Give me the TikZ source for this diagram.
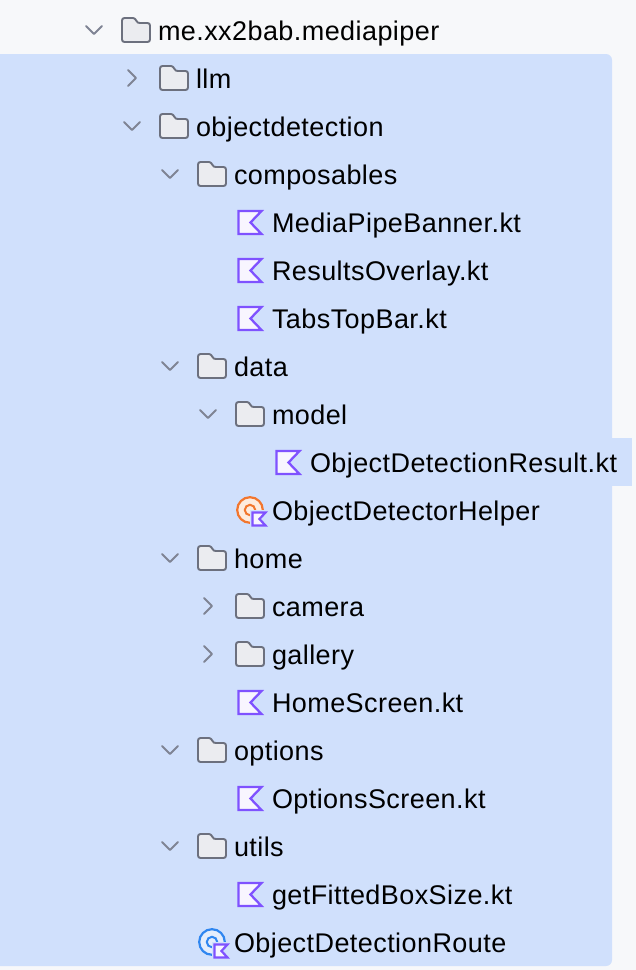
\documentclass[tikz,border=0pt]{standalone}
\usepackage{fontspec}
\setmainfont{Liberation Sans}[LetterSpace=1.6]
\definecolor{panelbg}{HTML}{F7F8FA}
\definecolor{selbg}{HTML}{D0E0FC}
\definecolor{foldfill}{HTML}{EBECF0}
\definecolor{foldline}{HTML}{6C707E}
\definecolor{chev}{HTML}{7F8494}
\definecolor{ktline}{HTML}{7F52FF}
\definecolor{ktfill}{HTML}{F8F5FF}
\definecolor{orangeline}{HTML}{F2762E}
\definecolor{orangefill}{HTML}{FDEBDF}
\definecolor{blueline}{HTML}{2F86F0}
\definecolor{bluefill}{HTML}{E4EDFC}
\tikzset{
  x=1pt,y=-1pt,
  rowtext/.style={anchor=base west,inner sep=0pt,outer sep=0pt,text=black,font=\fontsize{27}{30}\selectfont},
  chevline/.style={draw=chev,line width=1.9pt,line cap=round,line join=round},
  foldshape/.style={draw=foldline,fill=foldfill,line width=1.9pt,line join=round},
  ktshape/.style={draw=ktline,fill=ktfill,line width=2.3pt,line join=miter},
  pics/folder/.style={code={
    \path[foldshape] (2.5,0) -- (11,0) .. controls (13,0) and (13,1) .. (14.5,3) .. controls (15.5,4.5) and (16,5) .. (18,5) -- (25.5,5)
      .. controls (27,5) and (28,6) .. (28,7.5) -- (28,21.5) .. controls (28,23) and (27,24) .. (25.5,24) -- (2.5,24)
      .. controls (1,24) and (0,23) .. (0,21.5) -- (0,2.5) .. controls (0,1) and (1,0) .. (2.5,0) -- cycle;
  }},
  pics/ktfile/.style={code={
    \path[ktshape] (0,0) -- (23,0) -- (12,11.5) -- (23,23) -- (0,23) -- cycle;
  }},
  pics/ktbadge/.style={code={
    \path[fill=selbg] (-2.5,-2.5) rectangle (15.5,15.5);
    \path[draw=ktline,fill=ktfill,line width=2.2pt] (0,0) -- (13,0) -- (7,6.5) -- (13,13) -- (0,13) -- cycle;
  }},
  pics/chevdown/.style={code={\path[chevline] (-8,-4) -- (0,4) -- (8,-4);}},
  pics/chevright/.style={code={\path[chevline] (-4,-8) -- (4,0) -- (-4,8);}},
}
\newcommand{\rowfolder}[3]{% folder x, row y, expanded(d/r)
  \pic at (#1,#2-12) {folder};
  \pic at (#1-28,#2) {chev#3};
}
\begin{document}
\begin{tikzpicture}
\useasboundingbox (0,0) rectangle (636,970);
\fill[panelbg] (0,0) rectangle (636,970);
\fill[selbg] (-10,54) [rounded corners=6pt] -- (612,54) -- (612,966) -- (-10,966) -- cycle;
\fill[selbg] (600,438) rectangle (632,486);

\rowfolder{122}{30}{down}  \node[rowtext] (root) at (158,40) {me.xx2bab.mediapiper};
\rowfolder{160}{78}{right} \node[rowtext] (llm) at (196,88) {llm};
\rowfolder{160}{126}{down} \node[rowtext] (objdet) at (196,136) {objectdetection};
\rowfolder{198}{174}{down} \node[rowtext] (comp) at (234,184) {composables};
\pic at (238.5,211) {ktfile}; \node[rowtext] (banner) at (272,232) {MediaPipeBanner.kt};
\pic at (238.5,259) {ktfile}; \node[rowtext] (overlay) at (272,280) {ResultsOverlay.kt};
\pic at (238.5,307) {ktfile}; \node[rowtext] (topbar) at (272,328) {TabsTopBar.kt};
\rowfolder{198}{366}{down} \node[rowtext] (data) at (234,376) {data};
\rowfolder{236}{414}{down} \node[rowtext] (model) at (272,424) {model};
\pic at (276.5,451) {ktfile}; \node[rowtext] (result) at (310,472) {ObjectDetectionResult.kt};
\path[draw=orangeline,fill=orangefill,line width=2.2pt] (250,510) circle (12.8);
\path[draw=orangeline,fill=orangefill,line width=2pt] (250,510) circle (5.2);
\pic at (252.5,512.5) {ktbadge};
\node[rowtext] (helper) at (272,520) {ObjectDetectorHelper};
\rowfolder{198}{558}{down} \node[rowtext] (home) at (234,568) {home};
\rowfolder{236}{606}{right} \node[rowtext] (camera) at (272,616) {camera};
\rowfolder{236}{654}{right} \node[rowtext] (gallery) at (272,664) {gallery};
\pic at (238.5,691) {ktfile}; \node[rowtext] (homescreen) at (272,712) {HomeScreen.kt};
\rowfolder{198}{750}{down} \node[rowtext] (options) at (234,760) {options};
\pic at (238.5,787) {ktfile}; \node[rowtext] (optscreen) at (272,808) {OptionsScreen.kt};
\rowfolder{198}{846}{down} \node[rowtext] (utils) at (234,856) {utils};
\pic at (238.5,883) {ktfile}; \node[rowtext] (fitted) at (272,904) {getFittedBoxSize.kt};
\path[draw=blueline,fill=bluefill,line width=2.2pt] (212,942) circle (12.8);
\path[draw=blueline,fill=bluefill,line width=2pt] (212,942) circle (5.2);
\pic at (214.5,944.5) {ktbadge};
\node[rowtext] (route) at (234,952) {ObjectDetectionRoute};
\end{tikzpicture}
\end{document}
